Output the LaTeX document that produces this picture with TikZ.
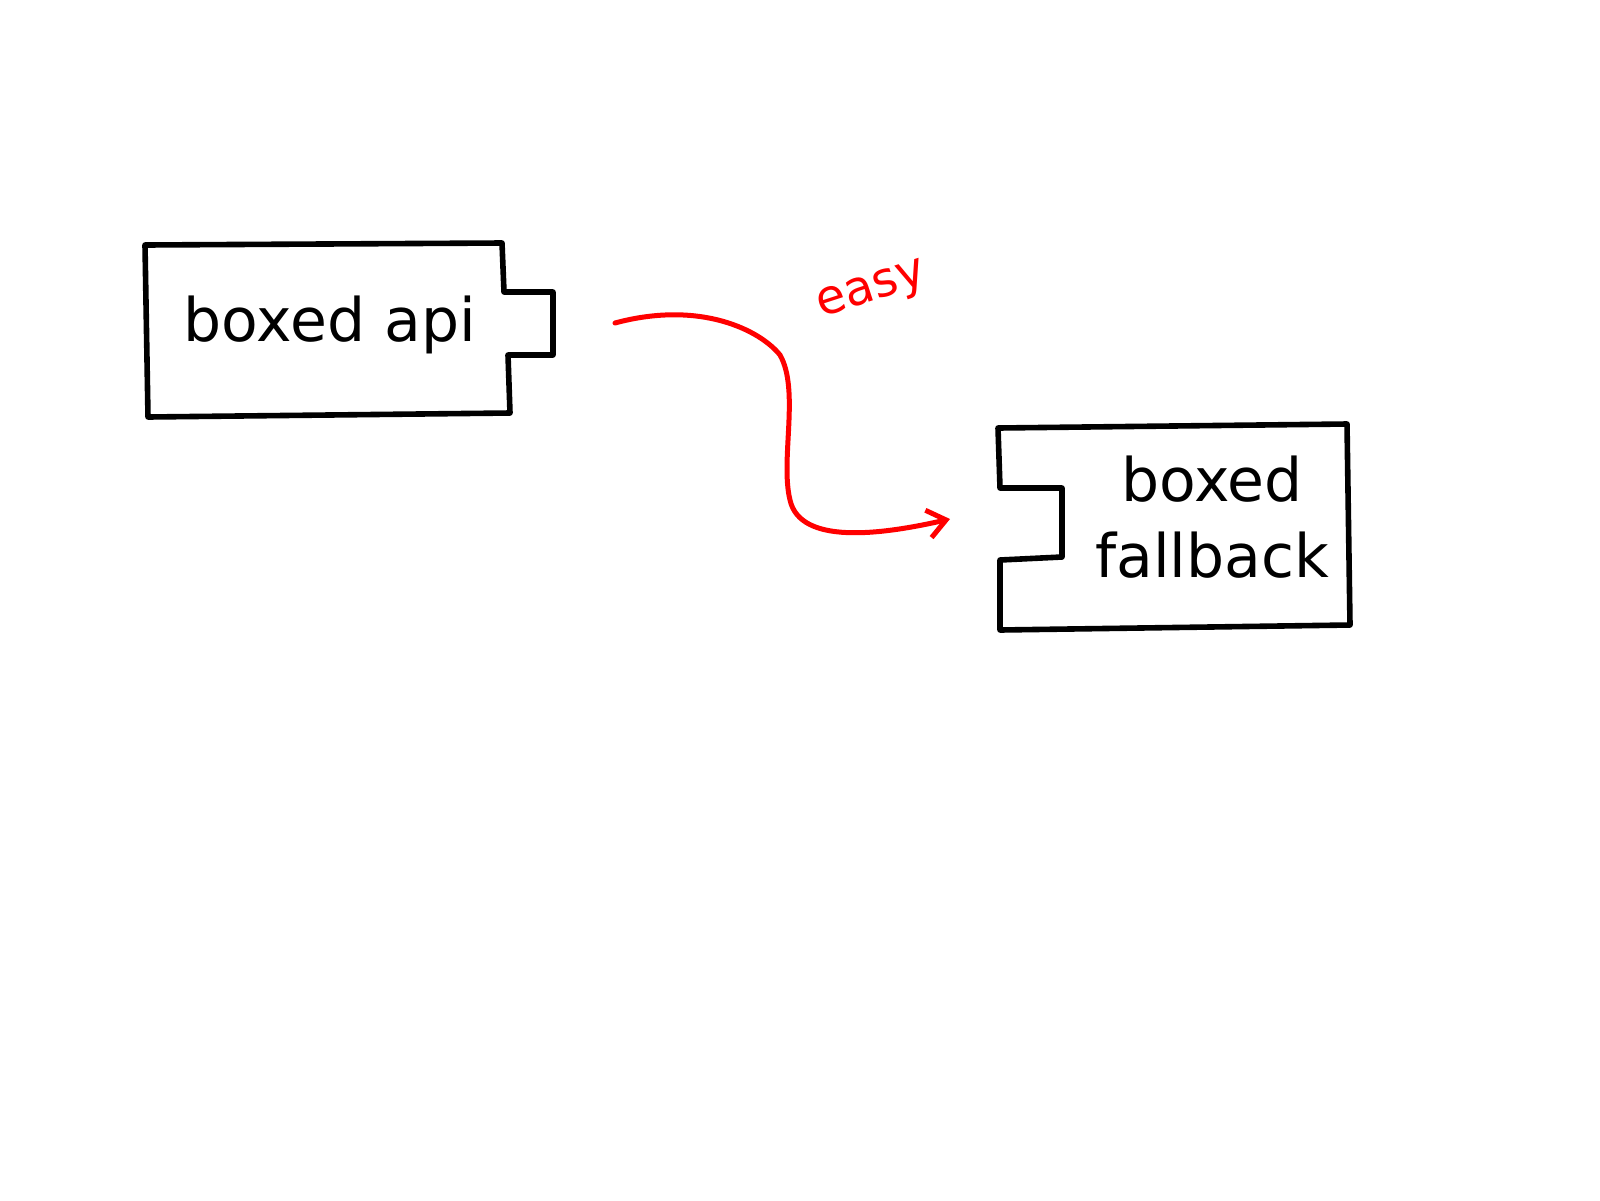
\documentclass[tikz,border=0pt]{standalone}
\usepackage{fontspec}
\setmainfont{DejaVu Sans}
\usetikzlibrary{arrows.meta}
\begin{document}
\begin{tikzpicture}[x=0.5pt,y=-0.5pt,
  box/.style={draw=black,line width=2.8pt,line join=round,line cap=round},
  lbl/.style={font=\fontsize{30}{38}\selectfont,align=center},
  conn/.style={draw=red,line width=2.5pt,line cap=round,-{Straight Barb[length=9pt,width=14pt]}}]
\useasboundingbox (0,0) rectangle (1600,1200);
\draw[box] (145,245) -- (502,243) -- (504,292) -- (553,292) -- (553,355) -- (508,355) -- (510,413) -- (148,417) -- cycle;
\draw[box] (998,428) -- (1347,424) -- (1350,625) -- (1000,630) -- (1000,560) -- (1062,557) -- (1062,488) -- (1000,488) -- cycle;
\node[lbl] (a) at (330,325) {boxed api};
\node[lbl] (b) at (1212,517) {boxed\\fallback};
\coordinate (s) at (615,323);
\coordinate (t) at (950,519);
\draw[conn] (s) .. controls (700,300) and (760,330) .. (780,355) .. controls (800,390) and (780,460) .. (790,500) .. controls (800,545) and (880,535) .. (t);
\node[text=red,font=\fontsize{24}{28}\selectfont,rotate=18,inner sep=1pt] (e) at (872,292) {easy};
\end{tikzpicture}
\end{document}
